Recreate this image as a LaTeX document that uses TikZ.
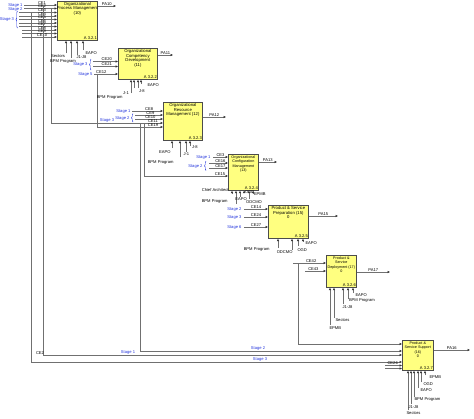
\documentclass[tikz,border=0pt]{standalone}
\usepackage{fontspec}
\setmainfont{Liberation Sans}
\usetikzlibrary{arrows.meta,decorations.pathreplacing}
\definecolor{boxyel}{HTML}{FFFF80}
\definecolor{stblue}{HTML}{2233DD}
\definecolor{wiregray}{HTML}{707070}
\tikzset{
 box/.style={draw=black!70, fill=boxyel, line width=0.7pt, inner sep=0pt, anchor=north west},
 btxt/.style={font=\fontsize{4.2}{4.6}\selectfont, align=center, inner sep=0pt, anchor=north},
 btxs/.style={btxt, font=\fontsize{3.7}{4.4}\selectfont},
 anum/.style={font=\fontsize{4.1}{4.4}\selectfont, inner sep=0.6pt, anchor=south east},
 lbl/.style={font=\fontsize{4.1}{4.4}\selectfont, inner sep=0.3pt},
 stg/.style={lbl, text=stblue},
 wire/.style={draw=wiregray, line width=0.75pt},
 arr/.style={wire, -{Triangle[length=2.4pt,width=2pt,color=black!80]}},
 brc/.style={draw=stblue, line width=0.45pt, decorate, decoration={brace, amplitude=1.5pt}},
}
\begin{document}
\begin{tikzpicture}[x=1pt,y=-1pt]
\useasboundingbox[fill=white] (0,0) rectangle (474,418);
% ---------------- boxes
\node[box, minimum width=40pt, minimum height=39.5pt] (b10) at (57,0.5) {};
\node[btxt] (t10) at ([yshift=-1.5pt]b10.north) {Organizational\\Process Management\\(10)};
\node[anum] (a10) at (b10.south east) {A 3.2.1};
\node[box, minimum width=39pt, minimum height=31pt] (b11) at (118,48) {};
\node[btxt] (t11) at ([yshift=-1.5pt]b11.north) {Organizational\\Competency\\Development\\(11)};
\node[anum] (a11) at (b11.south east) {A 3.2.2};
\node[box, minimum width=39pt, minimum height=38pt] (b12) at (163,102) {};
\node[btxt] (t12) at ([yshift=-1.5pt]b12.north) {Organizational\\Resource\\Management (12)};
\node[anum] (a12) at (b12.south east) {A 3.2.3};
\node[box, minimum width=30pt, minimum height=36pt] (b13) at (228,154) {};
\node[btxs] (t13) at ([yshift=-1.5pt]b13.north) {Organizational\\Configuration\\Management\\(13)};
\node[anum] (a13) at (b13.south east) {A 3.2.4};
\node[box, minimum width=40pt, minimum height=33pt] (b15) at (268,205) {};
\node[btxt] (t15) at ([yshift=-1.5pt]b15.north) {Product \& Service\\Preparation (15)\\0};
\node[anum] (a15) at (b15.south east) {A 3.2.5};
\node[box, minimum width=30pt, minimum height=32pt] (b17) at (326,255) {};
\node[btxs] (t17) at ([yshift=-1.5pt]b17.north) {Product \&\\Service\\Deployment (17)\\0};
\node[anum] (a17) at (b17.south east) {A 3.2.6};
\node[box, minimum width=31pt, minimum height=30pt] (b16) at (402,340) {};
\node[btxs] (t16) at ([yshift=-1.5pt]b16.north) {Product \&\\Service Support\\(16)\\0};
\node[anum] (a16) at (b16.south east) {A 3.2.7};
% ---------------- outputs
\draw[arr] (b10.east |- 0,6) -- (116,6) node[lbl,pos=0.5,above] (o10) {PA10};
\draw[arr] (b11.east |- 0,55) -- (173,55) node[lbl,pos=0.5,above] (o11) {PA11};
\draw[arr] (b12.east |- 0,117) -- (226,117) node[lbl,pos=0.5,above] (o12) {PA12};
\draw[arr] (b13.east |- 0,162) -- (277,162) node[lbl,pos=0.5,above] (o13) {PA13};
\draw[arr] (b15.east |- 0,216) -- (338,216) node[lbl,pos=0.5,above] (o15) {PA15};
\draw[arr] (b17.east |- 0,272) -- (390,272) node[lbl,pos=0.5,above] (o17) {PA17};
\draw[arr] (b16.east |- 0,350) -- (470,350) node[lbl,pos=0.5,above] (o16) {PA16};
% ---------------- box 10 inputs
\node[stg, anchor=east] (s10a) at (23,5) {Stage 1};
\node[stg, anchor=east] (s10b) at (23,9.5) {Stage 2};
\node[stg, anchor=east] (s10c) at (14.5,19.5) {Stage 3};
\draw[brc] (17.5,28) -- (17.5,11);
\foreach \yy/\xs/\lab in {5/24/CE1, 8.5/24/CE2, 12.5/19/CE3, 16/19/CE4, 19.5/19/CE5, 23/19/CE6, 26.5/19/CE7, 30/22/CE8, 33.5/22/CE9, 37/22/CE10}{
  \draw[arr] (\xs,\yy) -- (b10.west |- 0,\yy);
  \node[lbl, anchor=south] at (42,\yy) {\lab};
}
% pipes from the left
\draw[arr] (31,12.5) -- (31,362) -- (b16.west |- 0,362);
\draw[arr] (43,5) -- (43,355) -- (b16.west |- 0,355);
\draw[arr] (51,8.5) -- (51,123) -- (b12.west |- 0,123);
\draw[arr] (140,123) -- (140,351) -- (b16.west |- 0,351);
\draw[arr] (144,123) -- (144,176) -- (b13.west |- 0,176);
\node[lbl, anchor=south] (l362) at (40,355) {CE2};
\node[stg, anchor=south] (s16a) at (128,355) {Stage 1};
\node[stg, anchor=south] (s16b) at (258,351) {Stage 2};
\node[stg, anchor=south] (s16c) at (260,362) {Stage 3};
% ---------------- box 11 inputs
\node[stg, anchor=east] (s11a) at (88,64) {Stage 3};
\draw[brc] (91,70) -- (91,59);
\draw[arr] (93,61.5) -- (b11.west |- 0,61.5) node[lbl,pos=0.55,above] {CE20};
\draw[arr] (93,66.5) -- (b11.west |- 0,66.5) node[lbl,pos=0.55,above] {CE21};
\node[stg, anchor=east] (s11b) at (93,74) {Stage 5};
\draw[arr] (94,74) -- (b11.west |- 0,74) node[lbl,pos=0.3,above] {CE12};
\draw[arr] (97,74) -- (97,127) -- (b12.west |- 0,127);
% ---------------- box 12 inputs
\node[stg, anchor=east] (s12a) at (131,111) {Stage 1};
\draw[arr] (132,111) -- (b12.west |- 0,111) node[lbl,pos=0.55,above] {CE8};
\node[stg, anchor=east] (s12b) at (130,118) {Stage 2};
\draw[brc] (133,122) -- (133,113.5);
\draw[arr] (135,115) -- (b12.west |- 0,115) node[lbl,pos=0.55,above] {CE9};
\draw[arr] (135,119) -- (b12.west |- 0,119) node[lbl,pos=0.55,above] {CE10};
\node[stg, anchor=south] (s12c) at (107,123) {Stage 3};
\node[lbl, anchor=south] (l123) at (153,123) {CE11};
\node[lbl, anchor=south] (l127) at (153,127) {CE19};
% ---------------- box 13 inputs
\node[stg, anchor=east] (s13a) at (211,157) {Stage 1};
\draw[arr] (213,157) -- (b13.west |- 0,157) node[lbl,pos=0.5,above] {CE3};
\node[stg, anchor=east] (s13b) at (203,166) {Stage 2};
\draw[brc] (206,170.5) -- (206,161);
\draw[arr] (209,163) -- (b13.west |- 0,163) node[lbl,pos=0.6,above] {CE16};
\draw[arr] (209,168) -- (b13.west |- 0,168) node[lbl,pos=0.6,above] {CE17};
\node[lbl, anchor=south] (l176) at (220,176) {CE15};
% ---------------- box 15 inputs
\node[stg, anchor=east] (s15a) at (242,209) {Stage 2};
\draw[arr] (244,209) -- (b15.west |- 0,209) node[lbl,pos=0.5,above] {CE14};
\node[stg, anchor=east] (s15b) at (242,217) {Stage 3};
\draw[arr] (244,217) -- (b15.west |- 0,217) node[lbl,pos=0.5,above] {CE24};
\node[stg, anchor=east] (s15c) at (242,227) {Stage 6};
\draw[arr] (244,227) -- (b15.west |- 0,227) node[lbl,pos=0.5,above] {CE27};
% ---------------- box 17 inputs
\draw[arr] (293,263) -- (b17.west |- 0,263) node[lbl,pos=0.55,above] {CE42};
\draw[arr] (298,263) -- (298,344) -- (b16.west |- 0,344);
\draw[arr] (305,271) -- (b17.west |- 0,271) node[lbl,pos=0.4,above] {CE43};
% ---------------- box 16 extra inputs
\draw[arr] (385,365.5) -- (b16.west |- 0,365.5) node[lbl,pos=0.45,above] {CE26};
\draw[arr] (385,368.5) -- (b16.west |- 0,368.5);
% ---------------- bottom arrows (mechanisms)
% box 10
\draw[arr] (66,53) -- (b10.south -| 66,0); \node[lbl,anchor=east] at (65.5,56) {Sectors};
\draw[arr] (71,58) -- (b10.south -| 71,0); \node[lbl,anchor=north] at (63,59.5) {BPM Program};
\draw[arr] (77,55) -- (b10.south -| 77,0); \node[lbl,anchor=north west] at (76,55.5) {J1-J8};
\draw[arr] (83,50) -- (b10.south -| 83,0); \node[lbl,anchor=west] at (85,53) {EAPO};
% box 11
\draw[arr] (131,93) -- (b11.south -| 131,0); \node[lbl,anchor=north east] at (123,95) {BPM Program};
\draw[arr] (134,88) -- (b11.south -| 134,0); \node[lbl,anchor=north] at (126,91) {J-1};
\draw[arr] (138,88) -- (b11.south -| 138,0); \node[lbl,anchor=north west] at (138.5,89) {J-8};
\draw[arr] (141,84) -- (b11.south -| 141,0); \node[lbl,anchor=west] at (147,85) {EAPO};
% box 12
\draw[arr] (172,148) -- (b12.south -| 172,0); \node[lbl,anchor=north east] at (171,150) {EAPO};
\draw[arr] (180,157) -- (b12.south -| 180,0); \node[lbl,anchor=north east] at (174,160) {BPM Program};
\draw[arr] (186,152) -- (b12.south -| 186,0); \node[lbl,anchor=north west] at (183,152.5) {J-1};
\draw[arr] (190,146) -- (b12.south -| 190,0); \node[lbl,anchor=west] at (191.5,147) {J-8};
% box 13
\draw[arr] (232,194) -- (b13.south -| 232,0); \node[lbl,anchor=east] at (229,190) {Chief Architect};
\draw[arr] (236,204) -- (b13.south -| 236,0); \node[lbl,anchor=east] at (228,202) {BPM Program};
\draw[arr] (240,197) -- (b13.south -| 240,0); \node[lbl,anchor=north] at (241,197.5) {EAPO};
\draw[arr] (244,191) -- (b13.south -| 244,0); \node[lbl,anchor=west] at (244.5,192.5) {OGD};
\draw[arr] (249,199) -- (b13.south -| 249,0); \node[lbl,anchor=north] at (254,200) {ODCMO};
\draw[arr] (253,193) -- (b13.south -| 253,0); \node[lbl,anchor=west] at (253.5,194.5) {EPMB};
% box 15
\draw[arr] (278,248) -- (b15.south -| 278,0); \node[lbl,anchor=east] at (270,250) {BPM Program};
\draw[arr] (292,250) -- (b15.south -| 292,0); \node[lbl,anchor=north east] at (293,250.5) {ODCMO};
\draw[arr] (298,246) -- (b15.south -| 298,0); \node[lbl,anchor=north west] at (297,248) {OGD};
\draw[arr] (303,241) -- (b15.south -| 303,0); \node[lbl,anchor=west] at (305,243) {EAPO};
% box 17
\draw[arr] (330,325) -- (b17.south -| 330,0); \node[lbl,anchor=north west] at (329,326) {EPMB};
\draw[arr] (334,318) -- (b17.south -| 334,0); \node[lbl,anchor=west] at (335,320) {Sectors};
\draw[arr] (343,304) -- (b17.south -| 343,0); \node[lbl,anchor=north west] at (342,305) {J1-J8};
\draw[arr] (348,299) -- (b17.south -| 348,0); \node[lbl,anchor=west] at (348.5,301) {BPM Program};
\draw[arr] (353,293) -- (b17.south -| 353,0); \node[lbl,anchor=west] at (355,295) {EAPO};
% box 16
\draw[arr] (408,410) -- (b16.south -| 408,0); \node[lbl,anchor=west] at (406,413) {Sectors};
\draw[arr] (411,404) -- (b16.south -| 411,0); \node[lbl,anchor=west] at (408,407) {J1-J8};
\draw[arr] (414,397) -- (b16.south -| 414,0); \node[lbl,anchor=west] at (414,400) {BPM Program};
\draw[arr] (418,388) -- (b16.south -| 418,0); \node[lbl,anchor=west] at (420,390) {EAPO};
\draw[arr] (421,382) -- (b16.south -| 421,0); \node[lbl,anchor=west] at (423,384) {OGD};
\draw[arr] (425,375) -- (b16.south -| 425,0); \node[lbl,anchor=west] at (429,377) {EPMB};
\end{tikzpicture}
\end{document}
